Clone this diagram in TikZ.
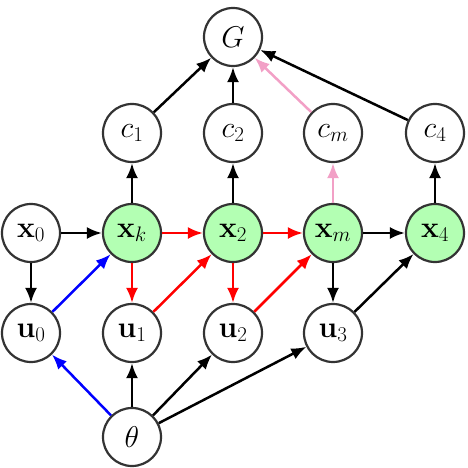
\RequirePackage{fix-cm}
\documentclass[tikz,border=0pt]{standalone}
\usepackage{amsmath}
\usetikzlibrary{arrows.meta}
\definecolor{nodegreen}{HTML}{B3FFB3}
\definecolor{edgepink}{HTML}{F2A0C6}
\definecolor{rim}{HTML}{333333}
\begin{document}
\begin{tikzpicture}[x=1pt,y=-1pt,
  var/.style={circle,draw=rim,line width=2.2pt,minimum size=58pt,inner sep=0pt,fill=white,font=\fontsize{30}{36}\selectfont},
  obs/.style={var,fill=nodegreen},
  edge/.style={line width=2.5pt,-{Latex[length=15pt,width=12pt]}},
  redge/.style={edge,red},
  bedge/.style={edge,blue},
  pedge/.style={edge,edgepink}]
\useasboundingbox (0,0) rectangle (468,468);
\node[var] (G) at (233,37) {$G$};
\node[var] (c1) at (132,133) {$c_1$};
\node[var] (c2) at (233,133) {$c_2$};
\node[var] (cm) at (333,133) {$c_m$};
\node[var] (c4) at (435,133) {$c_4$};
\node[var] (x0) at (31,233) {$\mathbf{x}_0$};
\node[obs] (xk) at (132,233) {$\mathbf{x}_k$};
\node[obs] (x2) at (233,233) {$\mathbf{x}_2$};
\node[obs] (xm) at (333,233) {$\mathbf{x}_m$};
\node[obs] (x4) at (435,233) {$\mathbf{x}_4$};
\node[var] (u0) at (31,333) {$\mathbf{u}_0$};
\node[var] (u1) at (132,333) {$\mathbf{u}_1$};
\node[var] (u2) at (233,333) {$\mathbf{u}_2$};
\node[var] (u3) at (333,333) {$\mathbf{u}_3$};
\node[var] (th) at (132,437) {$\theta$};
\draw[edge] (c1) -- (G);
\draw[edge] (c2) -- (G);
\draw[pedge] (cm) -- (G);
\draw[edge] (c4) -- (G);
\draw[edge] (xk) -- (c1);
\draw[edge] (x2) -- (c2);
\draw[pedge] (xm) -- (cm);
\draw[edge] (x4) -- (c4);
\draw[edge] (x0) -- (xk);
\draw[redge] (xk) -- (x2);
\draw[redge] (x2) -- (xm);
\draw[edge] (xm) -- (x4);
\draw[edge] (x0) -- (u0);
\draw[redge] (xk) -- (u1);
\draw[redge] (x2) -- (u2);
\draw[edge] (xm) -- (u3);
\draw[bedge] (u0) -- (xk);
\draw[redge] (u1) -- (x2);
\draw[redge] (u2) -- (xm);
\draw[edge] (u3) -- (x4);
\draw[bedge] (th) -- (u0);
\draw[edge] (th) -- (u1);
\draw[edge] (th) -- (u2);
\draw[edge] (th) -- (u3);
\end{tikzpicture}
\end{document}
